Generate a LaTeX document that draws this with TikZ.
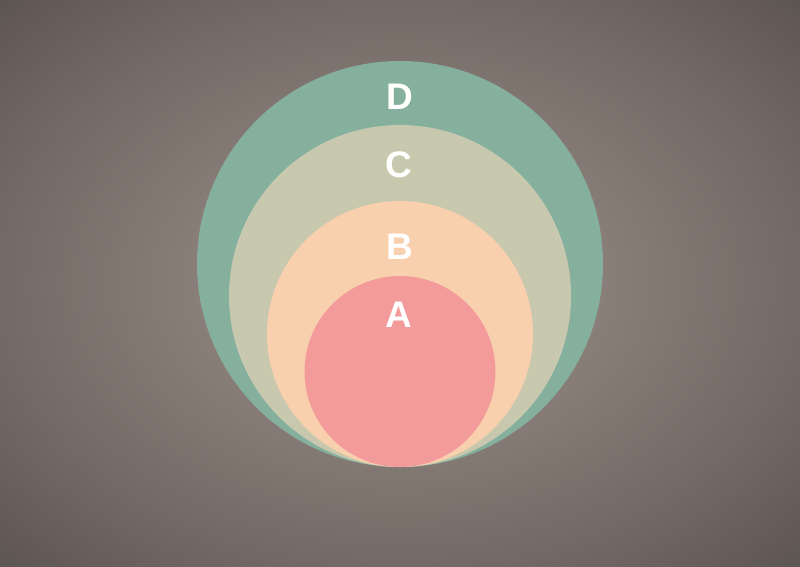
\documentclass[tikz,border=0pt]{standalone}
\usepackage{fontspec}
\setmainfont{Liberation Sans}
\definecolor{bgin}{RGB}{146,135,128}
\definecolor{bgmid}{RGB}{138,127,121}
\definecolor{bgedge}{RGB}{116,106,101}
\definecolor{bgout}{RGB}{92,84,80}
\definecolor{cD}{RGB}{133,176,158}
\definecolor{cC}{RGB}{200,200,174}
\definecolor{cB}{RGB}{249,208,174}
\definecolor{cA}{RGB}{243,155,155}
\pgfdeclareradialshading{bgshade}{\pgfpoint{0bp}{0bp}}{color(0bp)=(bgin); color(12bp)=(bgmid); color(25bp)=(bgedge); color(36bp)=(bgout); color(50bp)=(bgout)}
\begin{document}
\begin{tikzpicture}[x=1pt,y=-1pt,
  ring/.style={circle,inner sep=0pt,minimum size=#1,draw=none},
  lab/.style={text=white,font=\bfseries\fontsize{37}{37}\selectfont,inner sep=0pt}]
\useasboundingbox (0,0) rectangle (800,566);
\shade[shading=bgshade] (0,0) rectangle (800,566);
\node[ring=406pt,fill=cD] (D) at (400,264) {};
\node[ring=342pt,fill=cC] (C) at (400,296) {};
\node[ring=266pt,fill=cB] (B) at (400,334) {};
\node[ring=191pt,fill=cA] (A) at (400,371.5) {};
\node[lab] (lD) at (400,97) {D};
\node[lab] (lC) at (399,165) {C};
\node[lab] (lB) at (400,247) {B};
\node[lab] (lA) at (399,315) {A};
\end{tikzpicture}
\end{document}
